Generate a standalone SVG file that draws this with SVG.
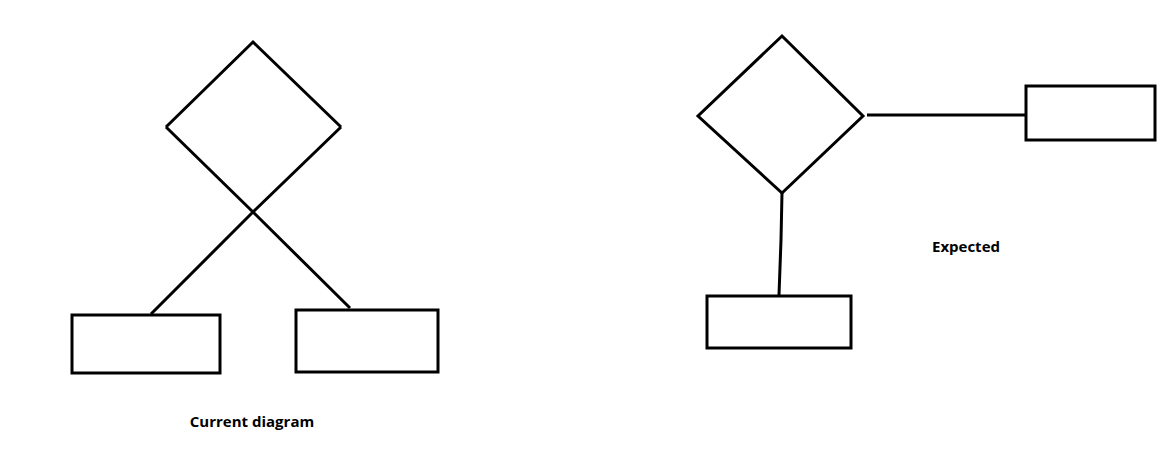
<svg xmlns="http://www.w3.org/2000/svg" width="1166" height="457" viewBox="0 0 1166 457">
<style>
.s{fill:none;stroke:#000;stroke-width:3;stroke-linejoin:miter;stroke-linecap:butt}
.t{font-family:"Open Sans","Noto Sans","Liberation Sans",sans-serif;font-weight:bold;font-size:15px;fill:#000}
</style>
<rect width="1166" height="457" fill="#fff"/>
<g id="current">
<g id="cur-diamond"><path class="s" d="M166,127 L253,42 L341,127"/></g>
<g id="cur-box-left"><rect class="s" x="72" y="315" width="148" height="58"/></g>
<g id="cur-box-right"><rect class="s" x="296" y="310" width="142" height="62"/></g>
<g id="cur-connectors">
<path class="s" d="M341,127 L253,212 L151,314"/>
<path class="s" d="M166,127 L253,212 L350,308"/>
</g>
<text id="cur-label" class="t" x="252" y="427" text-anchor="middle">Current diagram</text>
</g>
<g id="expected">
<g id="exp-diamond"><polygon class="s" points="782,36 863,116 782,193 698,116"/></g>
<g id="exp-box-right"><rect class="s" x="1026" y="86" width="129" height="54"/></g>
<g id="exp-box-bottom"><rect class="s" x="707" y="296" width="144" height="52"/></g>
<g id="exp-connectors">
<path class="s" d="M867,115 L1026,115"/>
<path class="s" d="M782,193 L781,240 L779,295"/>
</g>
<text id="exp-label" class="t" x="966" y="252" text-anchor="middle">Expected</text>
</g>
</svg>
